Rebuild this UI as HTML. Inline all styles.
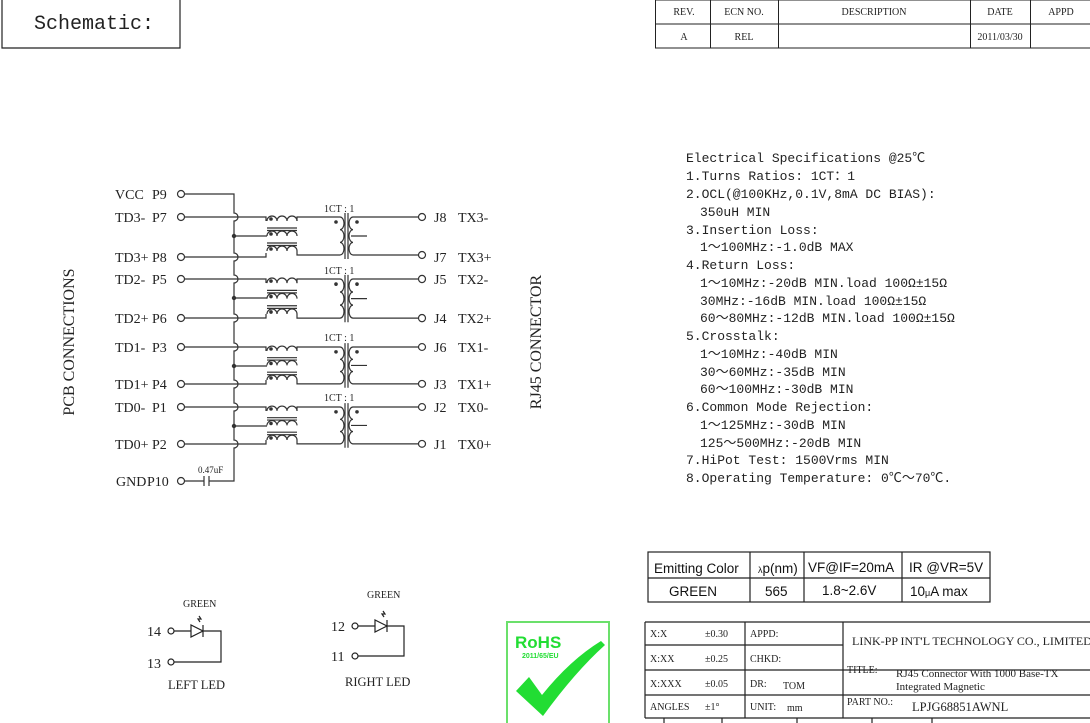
<!DOCTYPE html>
<html><head><meta charset="utf-8"><style>
html,body{margin:0;padding:0;background:#fff;}
svg{display:block;}
.s{font-family:"Liberation Serif","Noto Serif CJK SC",serif;fill:#222;}
.m{font-family:"Liberation Mono","Noto Sans CJK SC",monospace;fill:#222;}
.a{font-family:"Liberation Sans","Noto Sans CJK SC",sans-serif;fill:#111;}
</style></head><body>
<svg width="1090" height="723" viewBox="0 0 1090 723" xmlns="http://www.w3.org/2000/svg">
<defs>
<g id="u" fill="none" stroke="#333" stroke-width="1.2">
  <path d="M267,4 a5,5 0 0 1 10,0 a5,5 0 0 1 10,0 a5,5 0 0 1 10,0"/>
  <path d="M267,19 a5,5 0 0 1 10,0 a5,5 0 0 1 10,0 a5,5 0 0 1 10,0"/>
  <path d="M267,34 a5,5 0 0 1 10,0 a5,5 0 0 1 10,0 a5,5 0 0 1 10,0"/>
  <path d="M267,11 H297 M267,13.5 H297 M267,26 H297 M267,28.5 H297"/>
  <circle cx="271" cy="2" r="1.8" fill="#333" stroke="none"/>
  <circle cx="271" cy="17" r="1.8" fill="#333" stroke="none"/>
  <circle cx="271" cy="32" r="1.8" fill="#333" stroke="none"/>
  <path d="M297,4 V0 H340"/>
  <path d="M297,34 V38 H340"/>
  <path d="M340,0 a4,6.33 0 0 1 0,12.67 a4,6.33 0 0 1 0,12.67 a4,6.33 0 0 1 0,12.67"/>
  <circle cx="336" cy="5" r="1.8" fill="#333" stroke="none"/>
  <path d="M345,-4 V42 M348,-4 V42"/>
  <path d="M353,0 a4,6.33 0 0 0 0,12.67 a4,6.33 0 0 0 0,12.67 a4,6.33 0 0 0 0,12.67"/>
  <circle cx="357" cy="5" r="1.8" fill="#333" stroke="none"/>
  <path d="M353,0 H418 M353,38 H418 M351,19 H367"/>
  <circle cx="422" cy="0" r="3.5"/>
  <circle cx="422" cy="38" r="3.5"/>
</g>
</defs>

<path d="M2,0 V48 H180 V0" fill="none" stroke="#222" stroke-width="1.2"/>
<text x="34" y="29" class="m" font-size="20">Schematic:</text>

<g fill="none" stroke="#222" stroke-width="1">
<rect x="655.5" y="0" width="440" height="48"/>
<path d="M655,24 H1090 M710.5,0 V48 M778.5,0 V48 M970.5,0 V48 M1030.5,0 V48"/>
</g>
<g class="s" font-size="10" text-anchor="middle">
<text x="684" y="15">REV.</text><text x="744" y="15">ECN NO.</text><text x="874" y="15">DESCRIPTION</text><text x="1000" y="15">DATE</text><text x="1061" y="15">APPD</text>
<text x="684" y="40">A</text><text x="744" y="40">REL</text><text x="1000" y="40">2011/03/30</text>
</g>

<g fill="none" stroke="#333" stroke-width="1.2">
<path d="M184,194 H234 V213 a4,4 0 0 1 0,8 V253 a4,4 0 0 1 0,8 V275 a4,4 0 0 1 0,8 V314 a4,4 0 0 1 0,8 V343 a4,4 0 0 1 0,8 V380 a4,4 0 0 1 0,8 V403 a4,4 0 0 1 0,8 V440 a4,4 0 0 1 0,8 V481 H209 M204,481 H184 M204,476 V486 M209,476 V486"/>
<path d="M184,217 H266 V221 M184,257 H266 V253 M184,279 H266 V283 M184,318 H266 V314 M184,347 H266 V351 M184,384 H266 V380 M184,407 H266 V411 M184,444 H266 V440"/>
<path d="M234,236 H267 M234,298 H267 M234,366 H267 M234,426 H267"/>
<circle cx="181" cy="194" r="3.5"/><circle cx="181" cy="217" r="3.5"/><circle cx="181" cy="257" r="3.5"/><circle cx="181" cy="279" r="3.5"/><circle cx="181" cy="318" r="3.5"/><circle cx="181" cy="347" r="3.5"/><circle cx="181" cy="384" r="3.5"/><circle cx="181" cy="407" r="3.5"/><circle cx="181" cy="444" r="3.5"/><circle cx="181" cy="481" r="3.5"/>
</g>
<g fill="#333"><circle cx="234" cy="236" r="2.2"/><circle cx="234" cy="298" r="2.2"/><circle cx="234" cy="366" r="2.2"/><circle cx="234" cy="426" r="2.2"/></g>

<use href="#u" transform="translate(0,217)"/>
<use href="#u" transform="translate(0,279) scale(1,1.03)"/>
<use href="#u" transform="translate(0,347) scale(1,0.97)"/>
<use href="#u" transform="translate(0,407) scale(1,0.97)"/>

<g class="s" font-size="10">
<text x="324" y="212">1CT : 1</text><text x="324" y="274">1CT : 1</text><text x="324" y="341">1CT : 1</text><text x="324" y="401">1CT : 1</text>
<text x="198" y="473" font-size="9">0.47uF</text>
</g>

<g class="s" font-size="14">
<text x="115" y="199">VCC</text><text x="152" y="199">P9</text>
<text x="115" y="222">TD3-</text><text x="152" y="222">P7</text>
<text x="115" y="262">TD3+</text><text x="152" y="262">P8</text>
<text x="115" y="284">TD2-</text><text x="152" y="284">P5</text>
<text x="115" y="323">TD2+</text><text x="152" y="323">P6</text>
<text x="115" y="352">TD1-</text><text x="152" y="352">P3</text>
<text x="115" y="389">TD1+</text><text x="152" y="389">P4</text>
<text x="115" y="412">TD0-</text><text x="152" y="412">P1</text>
<text x="115" y="449">TD0+</text><text x="152" y="449">P2</text>
<text x="116" y="486">GND</text><text x="147" y="486">P10</text>
<text x="434" y="222">J8</text><text x="458" y="222">TX3-</text>
<text x="434" y="262">J7</text><text x="458" y="262">TX3+</text>
<text x="434" y="284">J5</text><text x="458" y="284">TX2-</text>
<text x="434" y="323">J4</text><text x="458" y="323">TX2+</text>
<text x="434" y="352">J6</text><text x="458" y="352">TX1-</text>
<text x="434" y="389">J3</text><text x="458" y="389">TX1+</text>
<text x="434" y="412">J2</text><text x="458" y="412">TX0-</text>
<text x="434" y="449">J1</text><text x="458" y="449">TX0+</text>
</g>
<text class="s" font-size="16" transform="translate(74,342) rotate(-90)" text-anchor="middle">PCB CONNECTIONS</text>
<text class="s" font-size="16" transform="translate(541,342) rotate(-90)" text-anchor="middle">RJ45 CONNECTOR</text>

<g class="m" font-size="13">
<text x="686" y="162">Electrical Specifications @25℃</text>
<text x="686" y="180">1.Turns Ratios: 1CT：1</text>
<text x="686" y="198">2.OCL(@100KHz,0.1V,8mA DC BIAS):</text>
<text x="700" y="216">350uH MIN</text>
<text x="686" y="234">3.Insertion Loss:</text>
<text x="700" y="251">1～100MHz:-1.0dB MAX</text>
<text x="686" y="269">4.Return Loss:</text>
<text x="700" y="287">1～10MHz:-20dB MIN.load 100Ω±15Ω</text>
<text x="700" y="305">30MHz:-16dB MIN.load 100Ω±15Ω</text>
<text x="700" y="322">60～80MHz:-12dB MIN.load 100Ω±15Ω</text>
<text x="686" y="340">5.Crosstalk:</text>
<text x="700" y="358">1～10MHz:-40dB MIN</text>
<text x="700" y="376">30～60MHz:-35dB MIN</text>
<text x="700" y="393">60～100MHz:-30dB MIN</text>
<text x="686" y="411">6.Common Mode Rejection:</text>
<text x="700" y="429">1～125MHz:-30dB MIN</text>
<text x="700" y="447">125～500MHz:-20dB MIN</text>
<text x="686" y="464">7.HiPot Test: 1500Vrms MIN</text>
<text x="686" y="482">8.Operating Temperature: 0℃～70℃.</text>
</g>

<g fill="none" stroke="#222" stroke-width="1.2">
<rect x="648" y="552" width="342" height="50"/>
<path d="M648,578 H990 M750,552 V602 M804,552 V602 M902,552 V602"/>
</g>
<g class="a" font-size="13.5">
<text x="654" y="573">Emitting Color</text><text x="758" y="573"><tspan font-size="9">λ</tspan>p(nm)</text><text x="808" y="572">VF@IF=20mA</text><text x="909" y="572">IR  @VR=5V</text>
<text x="669" y="596">GREEN</text><text x="765" y="596">565</text><text x="822" y="595">1.8~2.6V</text><text x="910" y="596">10<tspan font-size="9">μ</tspan>A max</text>
</g>

<g fill="none" stroke="#222" stroke-width="1.2">
<path d="M645,622 H1090 M645,622 V718 M645,645 H843 M645,670 H1090 M645,695 H1090 M645,718 H1090 M745,622 V718 M843,622 V718 M664,718 V723 M722,718 V723 M797,718 V723 M872,718 V723 M932,718 V723"/>
</g>
<g class="s" font-size="10">
<text x="650" y="637">X:X</text><text x="705" y="637">±0.30</text><text x="750" y="637">APPD:</text>
<text x="650" y="662">X:XX</text><text x="705" y="662">±0.25</text><text x="750" y="662">CHKD:</text>
<text x="650" y="687">X:XXX</text><text x="705" y="687">±0.05</text><text x="750" y="687">DR:</text><text x="783" y="689">TOM</text>
<text x="650" y="710">ANGLES</text><text x="705" y="710">±1°</text><text x="750" y="710">UNIT:</text><text x="787" y="711">mm</text>
<text x="847" y="673">TITLE:</text><text x="847" y="705">PART NO.:</text>
<text x="852" y="645" font-size="12">LINK-PP INT'L TECHNOLOGY CO., LIMITED</text>
<text x="896" y="677" font-size="11">RJ45 Connector With 1000 Base-TX</text>
<text x="896" y="690" font-size="11">Integrated Magnetic</text>
<text x="912" y="711" font-size="12.5">LPJG68851AWNL</text>
</g>

<rect x="507" y="622" width="102" height="104" fill="none" stroke="#6be06b" stroke-width="2"/>
<text x="515" y="648" font-family="Liberation Sans,sans-serif" font-weight="bold" font-size="17" fill="#22dd33">RoHS</text>
<text x="522" y="658" font-family="Liberation Sans,sans-serif" font-weight="bold" font-size="7" fill="#22dd33">2011/65/EU</text>
<path d="M516,691 L529,677 L542,695 Q570,660 601,641 L605,645 Q575,672 543,716 Z" fill="#22dd33"/>

<g fill="none" stroke="#222" stroke-width="1.2">
<circle cx="171" cy="631" r="3"/><circle cx="171" cy="662" r="3"/>
<path d="M174,631 H191 M191,625 V637 L203,631 Z M203,625 V637 M203,631 H221 V662 H174"/>
<path d="M200,622 l-2,-3 h3 l-2,-3"/>
<circle cx="355" cy="626" r="3"/><circle cx="355" cy="656" r="3"/>
<path d="M358,626 H375 M375,620 V632 L387,626 Z M387,620 V632 M387,626 H404 V656 H358"/>
<path d="M384,617 l-2,-3 h3 l-2,-3"/>
</g>
<g class="s">
<text x="183" y="607" font-size="10">GREEN</text>
<text x="367" y="598" font-size="10">GREEN</text>
<text x="147" y="636" font-size="14">14</text><text x="147" y="668" font-size="14">13</text>
<text x="331" y="631" font-size="14">12</text><text x="331" y="661" font-size="14">11</text>
<text x="168" y="689" font-size="12.5">LEFT LED</text>
<text x="345" y="686" font-size="12.5">RIGHT LED</text>
</g>
</svg>
</body></html>
